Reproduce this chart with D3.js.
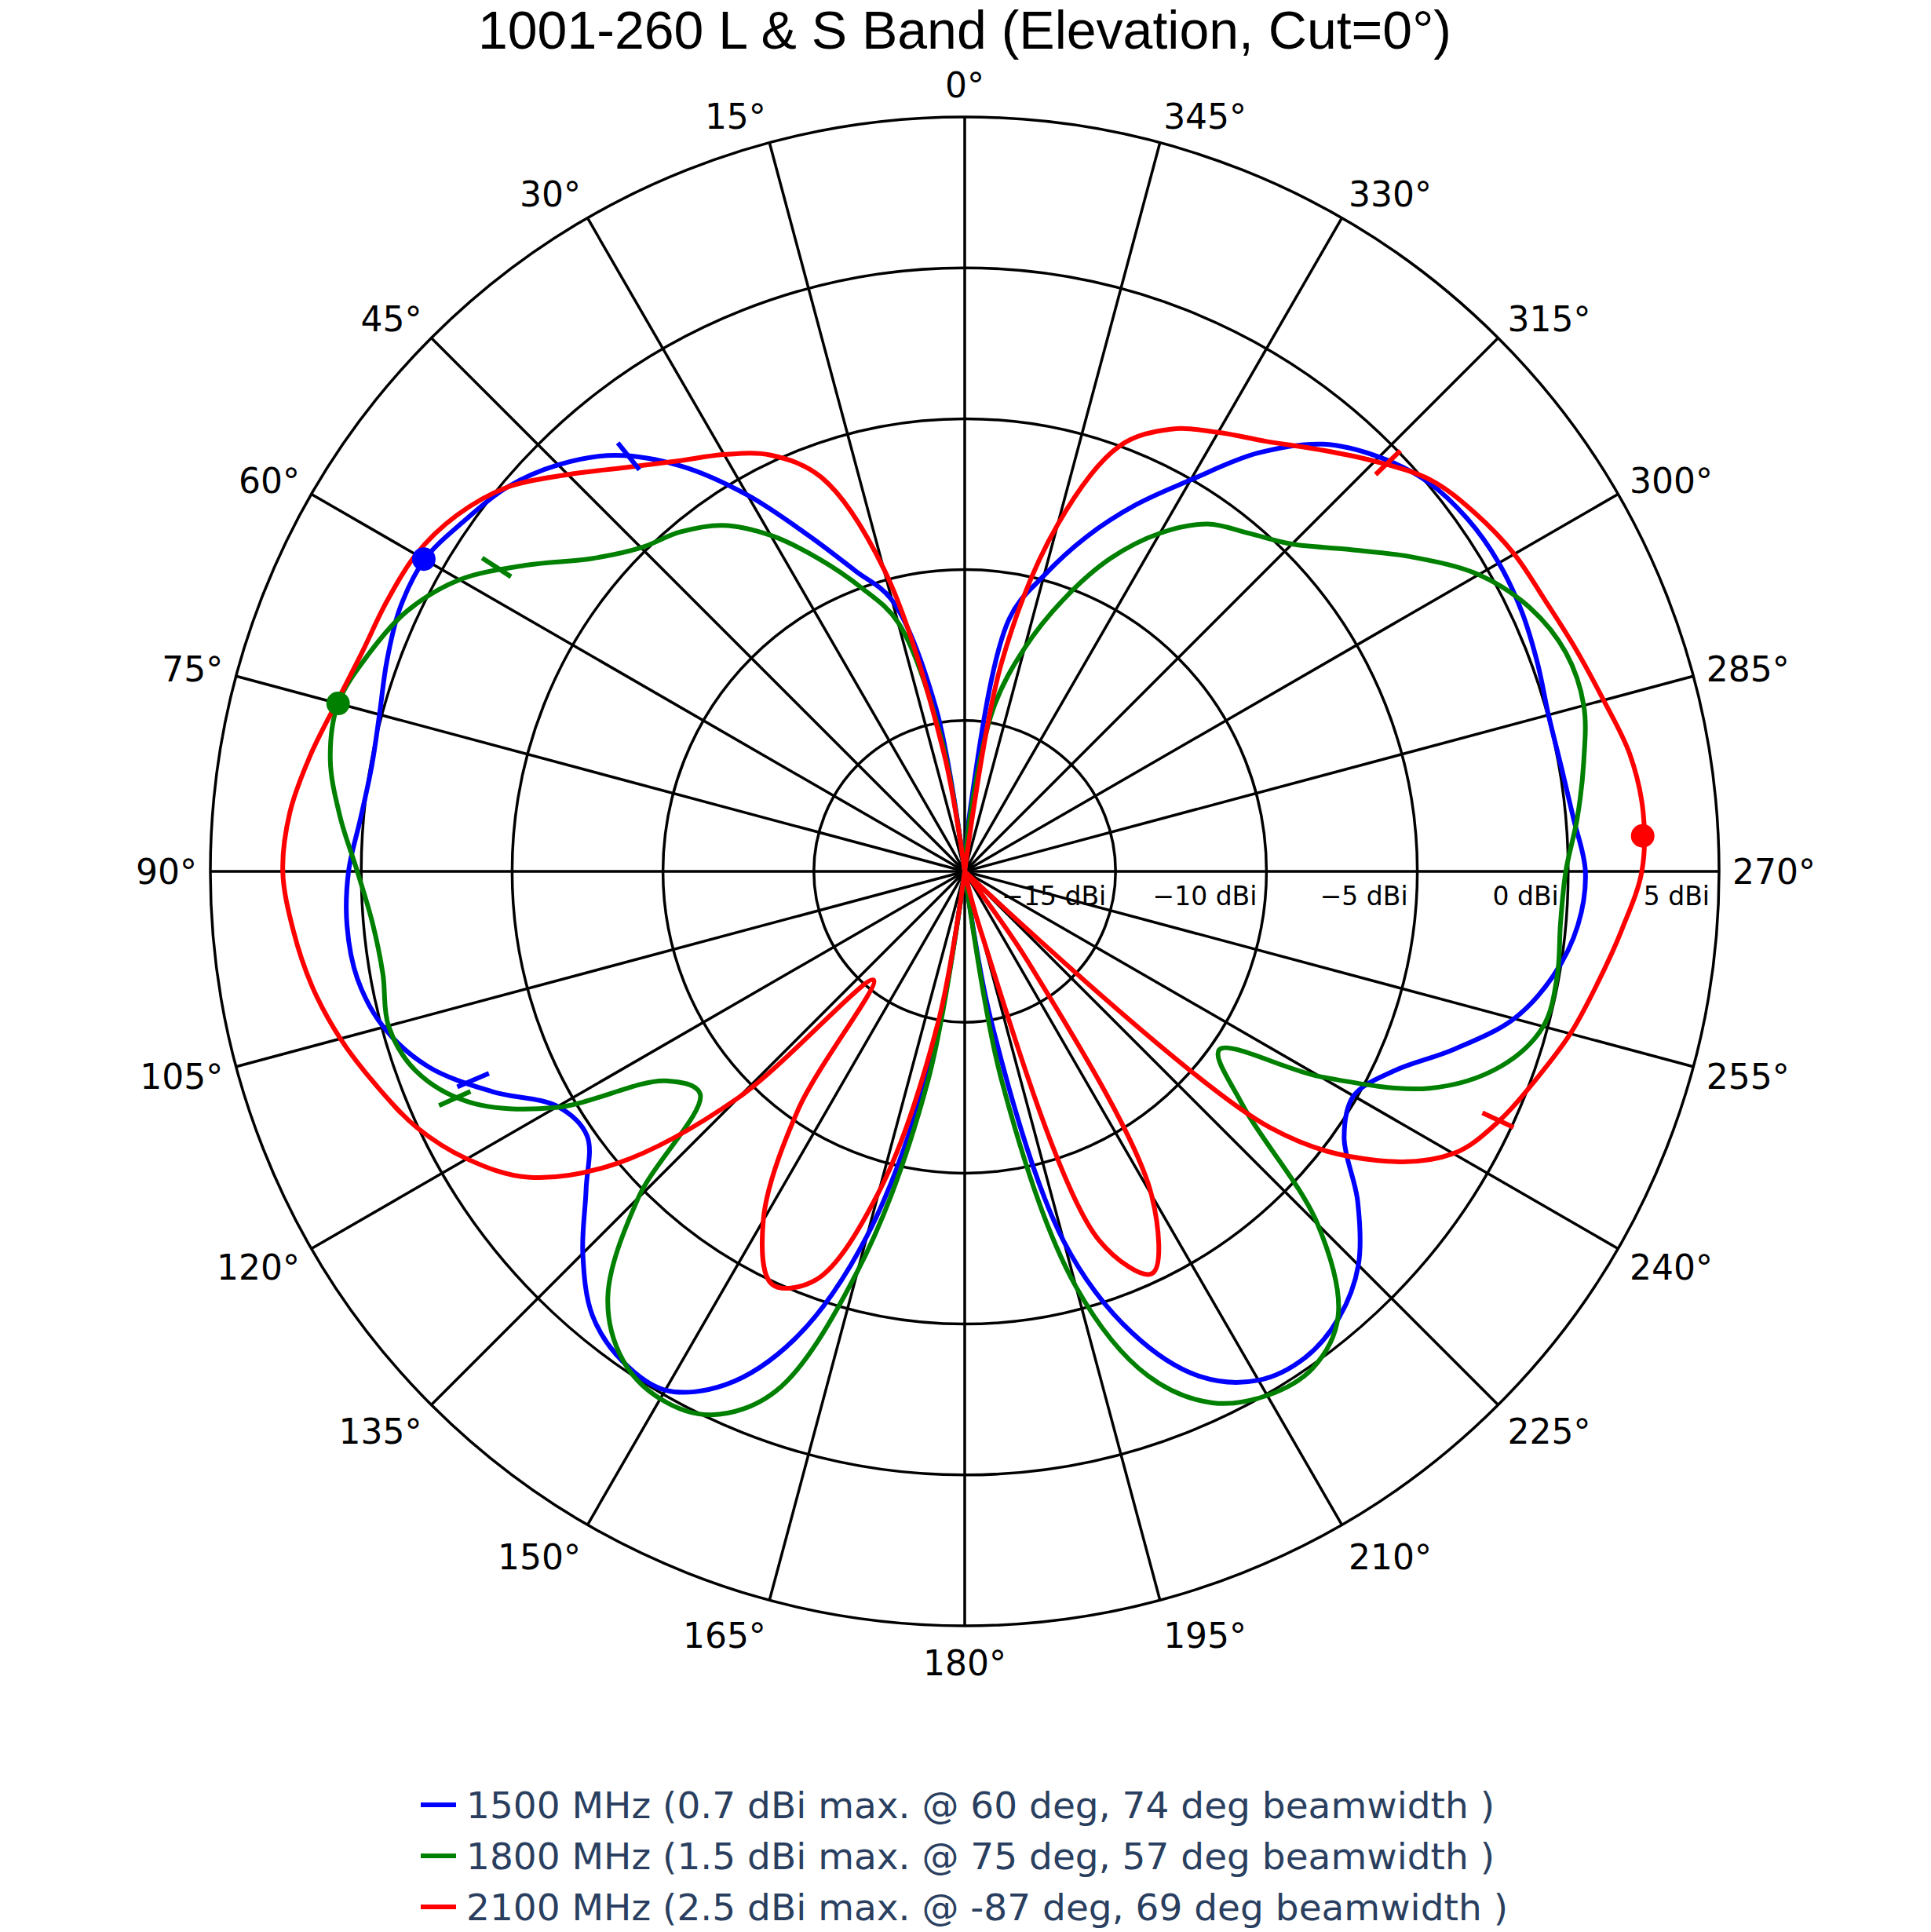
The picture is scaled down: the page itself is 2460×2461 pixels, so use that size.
<!DOCTYPE html>
<html>
<head>
<meta charset="utf-8">
<script src="https://cdn.jsdelivr.net/npm/d3@7"></script>
<style>
  html, body { margin: 0; padding: 0; background: #ffffff; }
  #graphic { width: 2460px; height: 2461px; }
</style>
</head>
<body>
<div id="graphic"></div>
<script>
// Elevation angle (deg, counter-clockwise from top)
var angles = [0, 5, 10, 15, 20, 25, 30, 35, 40, 45, 50, 55, 60, 65, 70, 75, 80, 85,
  90, 95, 100, 105, 110, 115, 120, 125, 130, 135, 140, 145, 150, 155, 160, 165, 170, 175,
  180, 185, 190, 195, 200, 205, 210, 215, 220, 225, 230, 235, 240, 245, 250, 255, 260, 265,
  270, 275, 280, 285, 290, 295, 300, 305, 310, 315, 320, 325, 330, 335, 340, 345, 350, 355];

// Gain in dBi
var gain1500 = [-20, -20, -14.5, -10.7, -9.4, -7.7, -5.6, -3.6, -2.0, -0.95, -0.2, 0.25, 0.67, 0.65, 0.38, 0.08, -0.04, 0.1,
  0.42, 0.55, 0.44, -0.06, -1.08, -2.73, -4.42, -4.72, -3.62, -2.1, -0.8, -0.2, -0.15, -1.23, -3.5, -7.5, -13.8, -20,
  -20, -20, -15, -7.3, -3.7, -1.53, -0.53, -0.33, -0.7, -1.55, -3.0, -4.65, -5.12, -4.33, -2.75, -1.15, -0.18, 0.4,
  0.57, 0.25, 0.07, 0.03, 0.2, 0.37, 0.44, 0.35, 0.06, -0.58, -1.52, -3.08, -5.02, -6.6, -8.2, -9.85, -11.5, -18];

var gain1800 = [-20, -20, -15.5, -11.45, -10.0, -8.57, -7.14, -6.0, -5.32, -4.83, -3.87, -2.3, -0.67, 0.4, 1.03, 1.5, 1.35, 0.78,
  0.13, -0.3, -0.42, -0.23, -0.65, -1.9, -4.35, -7.9, -8.55, -4.7, -1.6, -0.24, 0.18, -0.13, -1.66, -6.3, -12.9, -20,
  -20, -20, -13, -5.75, -2.2, -0.57, 0.05, 0.1, -0.75, -3.45, -8.0, -9.7, -6.4, -3.0, -1.1, -0.15, -0.06, -0.18,
  -0.08, 0.38, 0.83, 1.24, 1.2, 0.67, -0.33, -1.85, -3.4, -4.66, -5.37, -5.95, -7.06, -8.55, -10.4, -12.35, -14.5, -18.5];

var gain2100 = [-20, -20, -16, -9.6, -6.1, -4.78, -4.05, -3.4, -2.53, -1.4, -0.2, 0.56, 1.0, 1.14, 1.25, 1.56, 2.03, 2.45,
  2.6, 2.34, 1.96, 1.42, 0.75, 0.05, -0.95, -2.33, -4.94, -9.4, -15.3, -10.4, -6.65, -4.9, -5.6, -9.0, -14.9, -20,
  -20, -20, -20, -18, -7.0, -5.3, -7.62, -16.3, -20, -20, -6.8, -3.3, -1.3, -0.45, 0.15, 0.78, 1.3, 1.87,
  2.44, 2.57, 2.38, 1.92, 1.55, 1.23, 1.03, 0.67, 0.17, -0.78, -1.75, -2.6, -3.2, -3.83, -5.0, -8.1, -13.0, -20];

var seriesLabels = [
  "1500 MHz (0.7 dBi max. @ 60 deg, 74 deg beamwidth )",
  "1800 MHz (1.5 dBi max. @ 75 deg, 57 deg beamwidth )",
  "2100 MHz (2.5 dBi max. @ -87 deg, 69 deg beamwidth )"
];
var peakAngles = [60, 75, -87];
var peakGains = [0.7, 1.5, 2.5];
var beamEdgeAngles = [[39, 113], [57, 114], [245, 314]];
var beamEdgeGains = [-2.3, -1.5, -0.5];

var angleTicks = [0, 15, 30, 45, 60, 75, 90, 105, 120, 135, 150, 165, 180, 195, 210, 225, 240, 255, 270, 285, 300, 315, 330, 345];
var radialTicks = [-15, -10, -5, 0, 5];
var radialRange = [-20, 5];
var colours = ["#0000ff", "#008000", "#ff0000"];

var width = 2460, height = 2461;
var cx = 1229, cy = 1110, outerR = 961;

var svg = d3.select("#graphic")
  .append("svg")
  .attr("width", width)
  .attr("height", height)
  .style("font-family", "'DejaVu Sans', Verdana, sans-serif");

var r = d3.scaleLinear().domain(radialRange).range([0, outerR]).clamp(true);

function toXY(deg, g) {
  var a = deg * Math.PI / 180;
  return [cx - r(g) * Math.sin(a), cy - r(g) * Math.cos(a)];
}

// Title
svg.append("text")
  .attr("x", cx)
  .attr("y", 62)
  .attr("text-anchor", "middle")
  .style("font-family", "'Liberation Sans', Arial, sans-serif")
  .style("font-size", "68px")
  .style("fill", "#000")
  .text("1001-260 L & S Band (Elevation, Cut=0°)");

var plot = svg.append("g").attr("transform", "translate(" + cx + "," + cy + ")");

// Spokes
plot.selectAll(".spoke")
  .data(angleTicks)
  .enter()
  .append("line")
  .attr("class", "spoke")
  .attr("x1", 0).attr("y1", 0)
  .attr("x2", (d) => -outerR * Math.sin(d * Math.PI / 180))
  .attr("y2", (d) => -outerR * Math.cos(d * Math.PI / 180))
  .style("stroke", "#000")
  .style("stroke-width", 3.5);

// Rings
plot.selectAll(".ring")
  .data(radialTicks)
  .enter()
  .append("circle")
  .attr("class", "ring")
  .attr("r", (d) => r(d))
  .style("fill", "none")
  .style("stroke", "#000")
  .style("stroke-width", 3.5);

// Angular labels
plot.selectAll(".alabel")
  .data(angleTicks)
  .enter()
  .append("text")
  .attr("class", "alabel")
  .attr("x", (d) => -(outerR + 17) * Math.sin(d * Math.PI / 180))
  .attr("y", function (d) {
    var c = Math.cos(d * Math.PI / 180);
    return -(outerR + 17) * c - c * 24 + (d === 0 ? 0 : 6 * Math.abs(c));
  })
  .attr("dy", "0.36em")
  .attr("text-anchor", function (d) {
    var s = -Math.sin(d * Math.PI / 180);
    if (Math.abs(s) < 0.1) return "middle";
    return s > 0 ? "start" : "end";
  })
  .style("font-size", "44px")
  .style("fill", "#000")
  .text((d) => d + "°");

// Radial labels along the 270° spoke
plot.selectAll(".rlabel")
  .data(radialTicks)
  .enter()
  .append("text")
  .attr("class", "rlabel")
  .attr("x", (d) => r(d) - 12)
  .attr("y", 43)
  .attr("text-anchor", "end")
  .style("font-size", "33px")
  .style("fill", "#000")
  .text((d) => (d < 0 ? "\u2212" + Math.abs(d) : d) + " dBi");

// Curves
var seriesData = [gain1500, gain1800, gain2100].map(function (g) {
  return angles.map((a, i) => ({ angle: a, gain: g[i] }));
});

var line = d3.lineRadial()
  .angle((d) => -d.angle * Math.PI / 180)
  .radius((d) => r(d.gain))
  .curve(d3.curveCatmullRomClosed.alpha(0.5));

plot.selectAll(".series")
  .data(seriesData)
  .enter()
  .append("path")
  .attr("class", "series")
  .attr("d", line)
  .style("fill", "none")
  .style("stroke", (_, i) => colours[i])
  .style("stroke-width", 6)
  .style("stroke-linejoin", "round");

// Beamwidth edge ticks (short radial strokes)
beamEdgeAngles.forEach(function (pair, i) {
  pair.forEach(function (a) {
    var p1 = toXY(a, beamEdgeGains[i] - 0.57);
    var p2 = toXY(a, beamEdgeGains[i] + 0.57);
    svg.append("line")
      .attr("x1", p1[0]).attr("y1", p1[1])
      .attr("x2", p2[0]).attr("y2", p2[1])
      .style("stroke", colours[i])
      .style("stroke-width", 6);
  });
});

// Peak markers
peakAngles.forEach(function (a, i) {
  var p = toXY(a, peakGains[i]);
  svg.append("circle")
    .attr("cx", p[0]).attr("cy", p[1])
    .attr("r", 15)
    .style("fill", colours[i]);
});

// Legend
var legend = svg.append("g").attr("class", "legend");
var rowY = [2299, 2364, 2429];
seriesLabels.forEach(function (label, i) {
  legend.append("line")
    .attr("x1", 536).attr("x2", 581)
    .attr("y1", rowY[i]).attr("y2", rowY[i])
    .style("stroke", colours[i])
    .style("stroke-width", 6);
  legend.append("text")
    .attr("x", 594)
    .attr("y", rowY[i])
    .attr("dy", "0.36em")
    .style("font-size", "47px")
    .style("fill", "#2a3f5f")
    .text(label);
});
</script>
</body>
</html>
